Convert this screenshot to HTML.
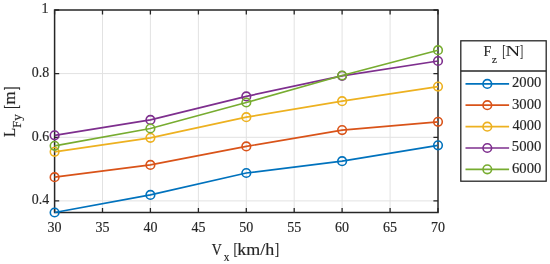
<!DOCTYPE html>
<html><head><meta charset="utf-8"><title>plot</title><style>html,body{margin:0;padding:0;background:#fff}</style></head><body>
<svg width="550" height="264" viewBox="0 0 550 264" style="display:block">
<rect width="550" height="264" fill="#fff"/>
<path d="M102.5 10.0V212.5M150.4 10.0V212.5M198.4 10.0V212.5M246.3 10.0V212.5M294.2 10.0V212.5M342.1 10.0V212.5M390.1 10.0V212.5M54.6 200.9H438.0M54.6 137.3H438.0M54.6 73.6H438.0" stroke="#e2e2e2" stroke-width="1" fill="none"/>
<path d="M54.6 212.5v-4.6M54.6 10.0v4.6M102.5 212.5v-4.6M102.5 10.0v4.6M150.4 212.5v-4.6M150.4 10.0v4.6M198.4 212.5v-4.6M198.4 10.0v4.6M246.3 212.5v-4.6M246.3 10.0v4.6M294.2 212.5v-4.6M294.2 10.0v4.6M342.1 212.5v-4.6M342.1 10.0v4.6M390.1 212.5v-4.6M390.1 10.0v4.6M438.0 212.5v-4.6M438.0 10.0v4.6M54.6 200.9h4.6M438.0 200.9h-4.6M54.6 137.3h4.6M438.0 137.3h-4.6M54.6 73.6h4.6M438.0 73.6h-4.6M54.6 10.0h4.6M438.0 10.0h-4.6" stroke="#262626" stroke-width="1.3" fill="none"/>
<rect x="54.6" y="10.0" width="383.4" height="202.5" fill="none" stroke="#262626" stroke-width="1.5"/>
<g stroke="#0072BD" stroke-width="1.7" fill="none"><polyline points="54.6,212.5 150.4,194.9 246.3,173.0 342.1,161.2 438.0,145.3"/>
<circle cx="54.6" cy="212.5" r="4.3" stroke-width="1.6"/>
<circle cx="150.4" cy="194.9" r="4.3" stroke-width="1.6"/>
<circle cx="246.3" cy="173.0" r="4.3" stroke-width="1.6"/>
<circle cx="342.1" cy="161.2" r="4.3" stroke-width="1.6"/>
<circle cx="438.0" cy="145.3" r="4.3" stroke-width="1.6"/>
</g>
<g stroke="#D95319" stroke-width="1.7" fill="none"><polyline points="54.6,177.2 150.4,164.9 246.3,146.4 342.1,130.1 438.0,121.8"/>
<circle cx="54.6" cy="177.2" r="4.3" stroke-width="1.6"/>
<circle cx="150.4" cy="164.9" r="4.3" stroke-width="1.6"/>
<circle cx="246.3" cy="146.4" r="4.3" stroke-width="1.6"/>
<circle cx="342.1" cy="130.1" r="4.3" stroke-width="1.6"/>
<circle cx="438.0" cy="121.8" r="4.3" stroke-width="1.6"/>
</g>
<g stroke="#EDB120" stroke-width="1.7" fill="none"><polyline points="54.6,151.8 150.4,137.8 246.3,117.2 342.1,101.2 438.0,86.6"/>
<circle cx="54.6" cy="151.8" r="4.3" stroke-width="1.6"/>
<circle cx="150.4" cy="137.8" r="4.3" stroke-width="1.6"/>
<circle cx="246.3" cy="117.2" r="4.3" stroke-width="1.6"/>
<circle cx="342.1" cy="101.2" r="4.3" stroke-width="1.6"/>
<circle cx="438.0" cy="86.6" r="4.3" stroke-width="1.6"/>
</g>
<g stroke="#7E2F8E" stroke-width="1.7" fill="none"><polyline points="54.6,135.3 150.4,119.9 246.3,96.4 342.1,75.8 438.0,61.0"/>
<circle cx="54.6" cy="135.3" r="4.3" stroke-width="1.6"/>
<circle cx="150.4" cy="119.9" r="4.3" stroke-width="1.6"/>
<circle cx="246.3" cy="96.4" r="4.3" stroke-width="1.6"/>
<circle cx="342.1" cy="75.8" r="4.3" stroke-width="1.6"/>
<circle cx="438.0" cy="61.0" r="4.3" stroke-width="1.6"/>
</g>
<g stroke="#77AC30" stroke-width="1.7" fill="none"><polyline points="54.6,145.8 150.4,128.5 246.3,102.5 342.1,75.5 438.0,50.2"/>
<circle cx="54.6" cy="145.8" r="4.3" stroke-width="1.6"/>
<circle cx="150.4" cy="128.5" r="4.3" stroke-width="1.6"/>
<circle cx="246.3" cy="102.5" r="4.3" stroke-width="1.6"/>
<circle cx="342.1" cy="75.5" r="4.3" stroke-width="1.6"/>
<circle cx="438.0" cy="50.2" r="4.3" stroke-width="1.6"/>
</g>
<g font-family="'Liberation Serif', serif" fill="#262626" stroke="#262626" stroke-width="0.16" font-size="14.5">
<text x="47.6" y="231.5" textLength="14" lengthAdjust="spacingAndGlyphs">30</text>
<text x="95.5" y="231.5" textLength="14" lengthAdjust="spacingAndGlyphs">35</text>
<text x="143.4" y="231.5" textLength="14" lengthAdjust="spacingAndGlyphs">40</text>
<text x="191.4" y="231.5" textLength="14" lengthAdjust="spacingAndGlyphs">45</text>
<text x="239.3" y="231.5" textLength="14" lengthAdjust="spacingAndGlyphs">50</text>
<text x="287.2" y="231.5" textLength="14" lengthAdjust="spacingAndGlyphs">55</text>
<text x="335.1" y="231.5" textLength="14" lengthAdjust="spacingAndGlyphs">60</text>
<text x="383.1" y="231.5" textLength="14" lengthAdjust="spacingAndGlyphs">65</text>
<text x="431.0" y="231.5" textLength="14" lengthAdjust="spacingAndGlyphs">70</text>
<text x="31.8" y="204.3" textLength="17.4" lengthAdjust="spacingAndGlyphs">0.4</text>
<text x="31.8" y="140.7" textLength="17.4" lengthAdjust="spacingAndGlyphs">0.6</text>
<text x="31.8" y="77.0" textLength="17.4" lengthAdjust="spacingAndGlyphs">0.8</text>
<text x="41.6" y="13.0" textLength="7" lengthAdjust="spacingAndGlyphs">1</text>
</g>
<g font-family="'Liberation Serif', serif" fill="#262626" stroke="#262626" stroke-width="0.16">
<text x="211.86" y="254.80" font-size="16.8" textLength="10.01" lengthAdjust="spacingAndGlyphs">V</text>
<text x="223.69" y="260.80" font-size="12.4" textLength="5.62" lengthAdjust="spacingAndGlyphs">x</text>
<text x="233.58" y="254.80" font-size="17.4" textLength="4.09" lengthAdjust="spacingAndGlyphs">[</text>
<text x="237.24" y="254.80" font-size="17" textLength="37.04" lengthAdjust="spacingAndGlyphs">km/h</text>
<text x="274.73" y="254.80" font-size="17.4" textLength="4.44" lengthAdjust="spacingAndGlyphs">]</text>
<g transform="translate(14.8,136.2) rotate(-90)">
<text x="-0.70" y="0.00" font-size="16.2" textLength="9.10" lengthAdjust="spacingAndGlyphs">L</text>
<text x="8.21" y="6.60" font-size="12.8" textLength="13.88" lengthAdjust="spacingAndGlyphs">Fy</text>
<text x="27.35" y="2.10" font-size="18" textLength="3.78" lengthAdjust="spacingAndGlyphs">[</text>
<text x="31.81" y="0.00" font-size="16" textLength="13.09" lengthAdjust="spacingAndGlyphs">m</text>
<text x="45.94" y="2.10" font-size="18" textLength="3.40" lengthAdjust="spacingAndGlyphs">]</text>
</g>
</g>
<rect x="460.8" y="40.8" width="85.4" height="140.4" fill="#fff" stroke="#262626" stroke-width="1.3"/>
<path d="M460.8 71H546.2" stroke="#262626" stroke-width="1.3"/>
<g font-family="'Liberation Serif', serif" fill="#262626" stroke="#262626" stroke-width="0.16">
<text x="483.48" y="56.30" font-size="14.2" textLength="7.83" lengthAdjust="spacingAndGlyphs">F</text>
<text x="491.81" y="63.00" font-size="11.4" textLength="5.23" lengthAdjust="spacingAndGlyphs">z</text>
<text x="502.25" y="57.40" font-size="16" textLength="3.33" lengthAdjust="spacingAndGlyphs">[</text>
<text stroke="none" x="505.28" y="56.30" font-size="14.2" textLength="14.98" lengthAdjust="spacingAndGlyphs">N</text>
<text x="520.07" y="57.40" font-size="16" textLength="3.11" lengthAdjust="spacingAndGlyphs">]</text>
<path d="M465.5 83.9H509.1" stroke="#0072BD" stroke-width="1.7"/>
<circle cx="487.3" cy="83.9" r="4.3" fill="none" stroke="#0072BD" stroke-width="1.6"/>
<text x="512.04" y="87.20" font-size="15" textLength="29.24" lengthAdjust="spacingAndGlyphs">2000</text>
<path d="M465.5 105.2H509.1" stroke="#D95319" stroke-width="1.7"/>
<circle cx="487.3" cy="105.2" r="4.3" fill="none" stroke="#D95319" stroke-width="1.6"/>
<text x="511.97" y="108.50" font-size="15" textLength="29.32" lengthAdjust="spacingAndGlyphs">3000</text>
<path d="M465.5 126.7H509.1" stroke="#EDB120" stroke-width="1.7"/>
<circle cx="487.3" cy="126.7" r="4.3" fill="none" stroke="#EDB120" stroke-width="1.6"/>
<text x="512.41" y="130.00" font-size="15" textLength="28.87" lengthAdjust="spacingAndGlyphs">4000</text>
<path d="M465.5 148.0H509.1" stroke="#7E2F8E" stroke-width="1.7"/>
<circle cx="487.3" cy="148.0" r="4.3" fill="none" stroke="#7E2F8E" stroke-width="1.6"/>
<text x="511.82" y="151.30" font-size="15" textLength="29.47" lengthAdjust="spacingAndGlyphs">5000</text>
<path d="M465.5 169.3H509.1" stroke="#77AC30" stroke-width="1.7"/>
<circle cx="487.3" cy="169.3" r="4.3" fill="none" stroke="#77AC30" stroke-width="1.6"/>
<text x="512.04" y="172.60" font-size="15" textLength="29.24" lengthAdjust="spacingAndGlyphs">6000</text>
</g>
</svg>
</body></html>
